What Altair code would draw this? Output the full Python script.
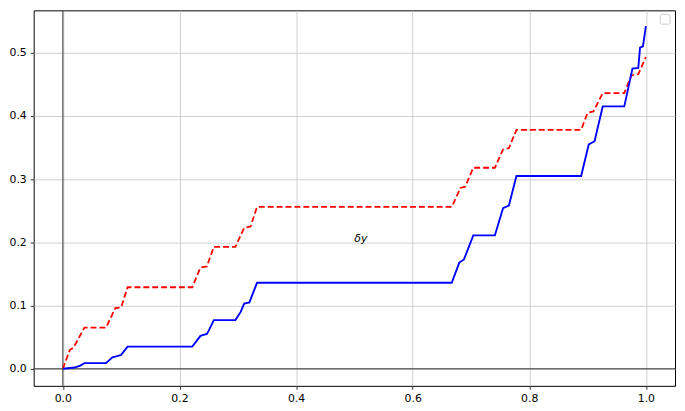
import altair as alt
import pandas as pd

# Solid blue staircase
blue_x = [0.0, 0.02, 0.03, 0.037, 0.074, 0.085, 0.093, 0.1, 0.111, 0.222, 0.236, 0.247,
          0.25, 0.259, 0.296, 0.305, 0.311, 0.32, 0.333, 0.667, 0.68, 0.688, 0.704, 0.741,
          0.755, 0.765, 0.778, 0.889, 0.902, 0.912, 0.926, 0.963, 0.977, 0.987, 0.99, 0.995, 1.0]
blue_y = [0.0, 0.002, 0.005, 0.009, 0.009, 0.018, 0.02, 0.022, 0.035, 0.035, 0.052, 0.055,
          0.06, 0.077, 0.077, 0.09, 0.103, 0.105, 0.136, 0.136, 0.168, 0.173, 0.211, 0.211,
          0.254, 0.258, 0.305, 0.305, 0.355, 0.36, 0.415, 0.415, 0.475, 0.476, 0.508, 0.51, 0.542]

# Dashed red staircase
red_x = [0.0, 0.012, 0.018, 0.037, 0.074, 0.09, 0.1, 0.111, 0.222, 0.236, 0.247, 0.259,
         0.296, 0.311, 0.322, 0.333, 0.667, 0.682, 0.69, 0.704, 0.741, 0.755, 0.765, 0.778,
         0.889, 0.9, 0.91, 0.926, 0.963, 0.975, 0.987, 1.0]
red_y = [0.0, 0.03, 0.033, 0.065, 0.065, 0.096, 0.097, 0.129, 0.129, 0.16, 0.162, 0.193,
         0.193, 0.223, 0.225, 0.256, 0.256, 0.286, 0.288, 0.318, 0.318, 0.347, 0.349, 0.378,
         0.378, 0.405, 0.407, 0.436, 0.436, 0.464, 0.466, 0.493]

x_ticks = [0.0, 0.2, 0.4, 0.6, 0.8, 1.0]
y_ticks = [0.0, 0.1, 0.2, 0.3, 0.4, 0.5]

annot_label = ["δy"]
annot_x = [0.5]
annot_y = [0.2]

blue_df = pd.DataFrame({"x": blue_x, "y": blue_y, "o": list(range(len(blue_x)))})
red_df = pd.DataFrame({"x": red_x, "y": red_y, "o": list(range(len(red_x)))})
annot_df = pd.DataFrame({"x": annot_x, "y": annot_y, "t": annot_label})
zero_df = pd.DataFrame({"x": [0.0], "y": [0.0]})

xs = alt.Scale(domain=[-0.05, 1.05], nice=False, zero=False)
ys = alt.Scale(domain=[-0.027, 0.567], nice=False, zero=False)

common_axis = dict(title=None, grid=True, gridColor="#c4c4c4", gridWidth=0.8, domain=False,
                   tickColor="black", tickSize=3.5, tickWidth=0.8, labelFont="DejaVu Sans",
                   labelFontSize=11, labelColor="black", format=".1f")
xaxis = alt.Axis(values=x_ticks, labelPadding=3, **common_axis)
yaxis = alt.Axis(values=y_ticks, labelPadding=4, **common_axis)

X = alt.X("x:Q", scale=xs, axis=xaxis)
Y = alt.Y("y:Q", scale=ys, axis=yaxis)

hzero = alt.Chart(zero_df).mark_rule(color="#333333", strokeWidth=1).encode(y=Y)
vzero = alt.Chart(zero_df).mark_rule(color="#333333", strokeWidth=1).encode(x=X)

blue_line = alt.Chart(blue_df).mark_line(color="#0000ff", strokeWidth=1.9).encode(
    x=X, y=Y, order="o:Q")
red_line = alt.Chart(red_df).mark_line(color="#ff0000", strokeWidth=1.8, strokeDash=[6, 3]).encode(
    x=X, y=Y, order="o:Q")

annot = alt.Chart(annot_df).mark_text(
    align="left", baseline="alphabetic", font="DejaVu Sans", fontStyle="italic",
    fontSize=11, color="black"
).encode(x=X, y=Y, text="t:N")

legend_box = alt.Chart(zero_df).mark_rect(
    fill="white", stroke="#cccccc", strokeWidth=1, cornerRadius=2
).encode(
    x=alt.value(634), x2=alt.value(644), y=alt.value(4), y2=alt.value(14)
)

chart = alt.layer(hzero, vzero, red_line, blue_line, annot, legend_box).properties(
    width=649, height=380,
    autosize=alt.AutoSizeParams(type="none"),
    padding={"left": 26, "top": 0, "right": 2, "bottom": 17},
    background="white",
).configure_view(stroke="black", strokeWidth=1)

chart.save("out.html", embed_options={"renderer": "svg", "actions": False})
